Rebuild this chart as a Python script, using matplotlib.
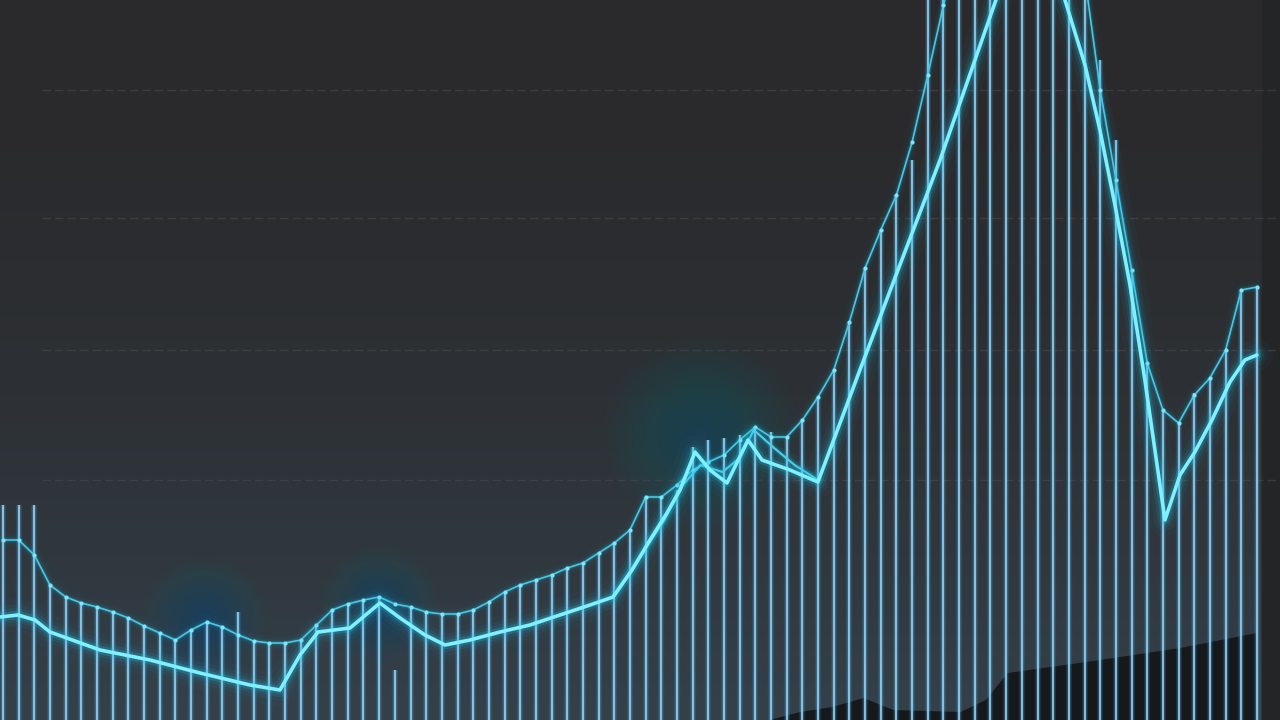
import numpy as np
import matplotlib.pyplot as plt

# bar index positions and heights (pixels from the bottom edge, 720 tall)
bar_idx = list(range(81))
bar_top = [215, 215, 215, 135, 123, 117, 113, 108, 102, 94, 87, 80, 90, 98, 93,
           108, 79, 77, 77, 80, 95, 110, 116, 120, 123, 50, 113, 108, 106, 106,
           110, 118, 128, 135, 140, 145, 152, 157, 167, 177, 190, 223, 223, 230,
           273, 280, 282, 285, 293, 288, 283, 300, 323, 348, 398, 452, 490, 525,
           560, 740, 740, 740, 740, 740, 740, 740, 740, 740, 740, 740, 660, 580,
           450, 357, 310, 297, 327, 342, 370, 430, 433]

# thin upper line with dots, one point per bar
upper_line = [180, 180, 165, 135, 123, 117, 113, 108, 102, 94, 87, 80, 90, 98, 93,
              85, 79, 77, 77, 80, 95, 110, 116, 120, 123, 116, 113, 108, 106, 106,
              110, 118, 128, 135, 140, 145, 152, 157, 167, 177, 190, 223, 223, 235,
              250, 258, 265, 280, 293, 283, 283, 300, 323, 350, 398, 452, 490, 525,
              578, 645, 715, 780, 800, 810, 815, 815, 810, 800, 790, 745, 630, 540,
              450, 357, 310, 297, 325, 342, 370, 430, 433]

# bright main line
main_x = [-0.19, 0.96, 2.04, 3.0, 6.19, 9.38, 12.57, 15.76, 17.67, 18.95, 20.1,
          22.14, 24.05, 25.33, 26.92, 28.2, 29.79, 31.71, 33.62, 35.53, 37.45,
          38.92, 40.13, 41.28, 42.36, 43.19, 44.15, 45.1, 46.19, 47.53, 48.42,
          50.21, 51.99, 54.67, 57.22, 59.78, 62.01, 64.24, 65.52, 66.79, 67.75,
          69.03, 69.98, 70.94, 71.9, 72.85, 74.13, 75.09, 76.04, 77.13, 78.28,
          79.23, 80.0]
main_y = [103, 105, 100, 88, 70, 60, 47, 35, 30, 65, 88, 92, 117, 102, 85, 75,
          80, 88, 95, 105, 115, 123, 150, 180, 207, 230, 268, 250, 237, 280, 260,
          250, 238, 350, 455, 560, 660, 760, 765, 750, 720, 655, 590, 515, 435,
          340, 200, 245, 268, 300, 338, 360, 365]

# second faint zigzag in the middle
mid_x = [38.92, 40.5, 42.2, 43.2, 44.5, 45.9, 47.0, 47.9, 49.2, 50.5, 52.0]
mid_y = [123, 160, 200, 232, 255, 248, 262, 290, 272, 255, 240]

# dark hill at the bottom right
hill_x = [48.9, 50.85, 52.9, 54.9, 56.8, 61.1, 62.7, 64.1, 70.0, 75.1, 80.0, 80.0]
hill_y = [0, 8, 13, 22, 10, 8, 20, 47, 60, 72, 87, 0]

grid_y = [630, 502, 370, 240]

fig = plt.figure(figsize=(12.8, 7.2), dpi=100)
ax = fig.add_axes([0, 0, 1, 1])
xl = (-0.19, 81.47)

# background gradient, bluish toward the bottom
grad = np.linspace(0, 1, 256)
w = (1 - grad) ** 2.0
top = np.array([0x2a, 0x2a, 0x2c]) / 255
bot = np.array([0x34, 0x41, 0x4b]) / 255
bg = top[None, None, :] * (1 - w[:, None, None]) + bot[None, None, :] * w[:, None, None]
ax.imshow(bg, extent=(xl[0], xl[1], 0, 720), origin='lower', aspect='auto',
          zorder=0)
ax.set_xlim(*xl)
ax.set_ylim(0, 720)
ax.axis('off')

# right edge strip
ax.axvspan(80.35, xl[1], color='#242527', zorder=1)

# faint gridlines
ax.hlines(grid_y, 2.5, xl[1], color='#4c4c4e', lw=1.0, alpha=0.55, zorder=1,
          linestyles=(0, (6, 3)))

# soft glow blobs
for (gx, gy, s) in [(44.5, 285, 20000), (12.8, 100, 8000), (24, 115, 7000)]:
    for k in range(25):
        ax.scatter([gx], [gy], s=s * (1 - k * 0.039) ** 2, color='#1b93b8',
                   alpha=0.012, lw=0, zorder=2)

# dark hill, behind the bars
ax.fill(hill_x, hill_y, color='#131517', alpha=0.9, zorder=2.5, lw=0)

# vertical bars
ax.vlines(bar_idx, 0, bar_top, color='#4aa8e0', lw=4.5, alpha=0.16, zorder=3)
ax.vlines(bar_idx, 0, bar_top, color='#8ccff4', lw=1.7, alpha=0.9, zorder=4)


def glow(x, y, core, lw, z, strength=1.0):
    for mult, a in [(9, 0.02), (6, 0.04), (4, 0.07), (2.4, 0.16)]:
        ax.plot(x, y, color='#22c8ee', lw=lw * mult, alpha=a * strength,
                zorder=z, solid_capstyle='round', solid_joinstyle='round')
    ax.plot(x, y, color=core, lw=lw, zorder=z + 0.1,
            solid_capstyle='round', solid_joinstyle='round')


glow(bar_idx, upper_line, '#48c8e6', 1.2, 5, 0.8)
ax.scatter(bar_idx, upper_line, s=9, color='#7fe6fa', zorder=5.3, lw=0)
glow(mid_x, mid_y, '#4fd0ea', 1.5, 5.5)
glow(main_x, main_y, '#7ff0ff', 2.6, 6, 1.3)

fig.savefig('out.png', dpi=100, facecolor='#2a2a2c')
